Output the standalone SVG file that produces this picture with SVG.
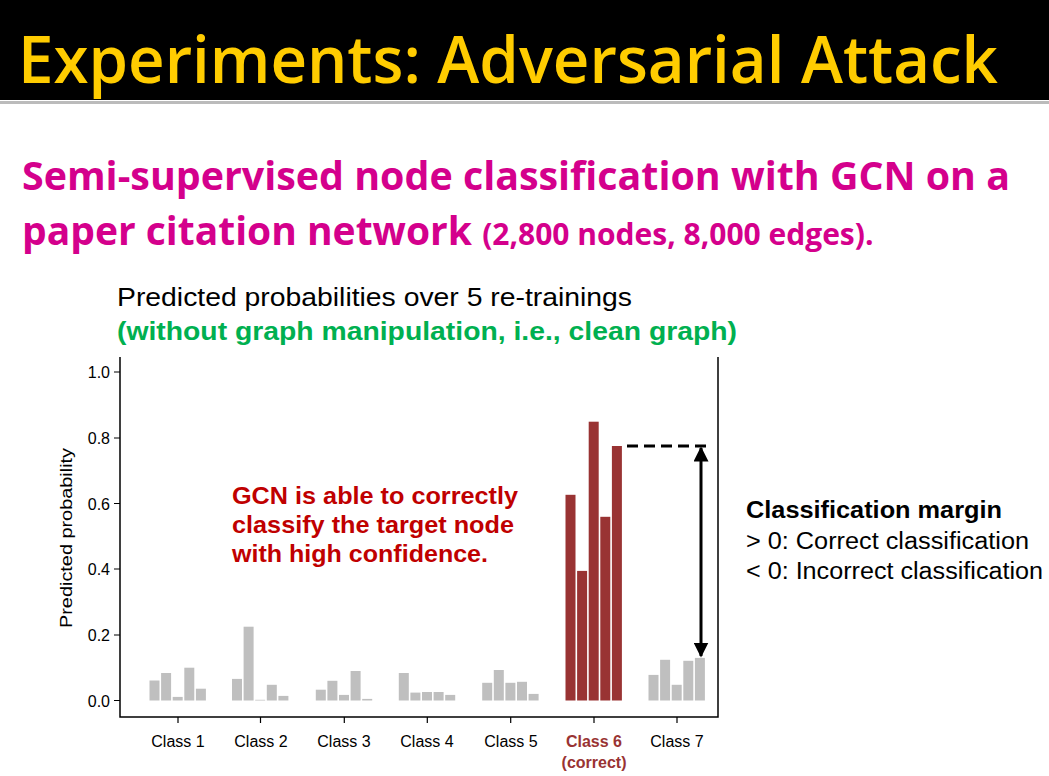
<svg xmlns="http://www.w3.org/2000/svg" width="1049" height="776" viewBox="0 0 1049 776">
<style>
.t{font-family:"Liberation Sans",Arial,sans-serif}
.g{fill:#bfbfbf}.r{fill:#993333}
.tick{font-family:"Liberation Sans",Arial,sans-serif;font-size:16px;fill:#000}
.ax{stroke:#000;stroke-width:1.5;fill:none}
</style>
<defs><marker id="ah" viewBox="0 0 10 10" refX="9" refY="5" markerWidth="5" markerHeight="5" orient="auto-start-reverse"><path d="M0,0L10,5L0,10z" fill="#000"/></marker></defs>
<rect width="1049" height="776" fill="#fff"/>
<rect width="1049" height="100" fill="#000"/>
<rect y="101" width="1049" height="3" fill="#bbb"/>
<text x="18" y="83" font-family="Open Sans,sans-serif" font-size="66" font-weight="600" fill="#FFCC00" textLength="980" lengthAdjust="spacingAndGlyphs">Experiments: Adversarial Attack</text>
<g font-family="Open Sans,sans-serif" font-weight="bold" fill="#D4008C">
<text x="22" y="190" font-size="39" textLength="988" lengthAdjust="spacingAndGlyphs">Semi-supervised node classification with GCN on a</text>
<text x="22" y="245" font-size="39">paper citation network <tspan font-size="30">(2,800 nodes, 8,000 edges).</tspan></text>
</g>
<text class="t" x="117" y="306" font-size="25" textLength="515" lengthAdjust="spacingAndGlyphs">Predicted probabilities over 5 re-trainings</text>
<text class="t" x="117" y="340" font-size="25" font-weight="bold" fill="#00B050" textLength="620" lengthAdjust="spacingAndGlyphs">(without graph manipulation, i.e., clean graph)</text>
<g id="axes">
<path class="ax" d="M120,357V717H718V357"/>
<g stroke="#000" stroke-width="1.2">
<path d="M114,372H120M114,438H120M114,503.5H120M114,569H120M114,635H120M114,700.5H120"/>
<path d="M178,717v6M260.5,717v6M344.3,717v6M427.3,717v6M510.7,717v6M594,717v6M677,717v6"/>
</g>
<g class="tick" text-anchor="end">
<text x="110" y="378">1.0</text><text x="110" y="444">0.8</text><text x="110" y="509.5">0.6</text><text x="110" y="575">0.4</text><text x="110" y="641">0.2</text><text x="110" y="706.5">0.0</text>
</g>
<text class="tick" font-size="17" transform="translate(72,538) rotate(-90)" text-anchor="middle" textLength="180" lengthAdjust="spacingAndGlyphs">Predicted probability</text>
<g class="tick" text-anchor="middle">
<text x="178" y="747">Class 1</text><text x="261" y="747">Class 2</text><text x="344" y="747">Class 3</text><text x="427" y="747">Class 4</text><text x="511" y="747">Class 5</text>
<text x="594" y="747" fill="#993333" font-weight="bold">Class 6</text><text x="594" y="768" fill="#993333" font-weight="bold">(correct)</text>
<text x="677" y="747">Class 7</text>
</g>
</g>
<g id="bars">
<g class="g">
<rect x="149.5" y="680.5" width="10" height="20"/><rect x="161.1" y="673" width="10" height="27.5"/><rect x="172.7" y="696.9" width="10" height="3.6"/><rect x="184.3" y="667.7" width="10" height="32.8"/><rect x="195.9" y="688.7" width="10" height="11.8"/>
<rect x="232" y="678.9" width="10" height="21.6"/><rect x="243.6" y="626.7" width="10" height="73.8"/><rect x="255.2" y="699.8" width="10" height="0.7"/><rect x="266.8" y="684.8" width="10" height="15.7"/><rect x="278.4" y="695.9" width="10" height="4.6"/>
<rect x="315.8" y="689.7" width="10" height="10.8"/><rect x="327.4" y="680.8" width="10" height="19.7"/><rect x="339" y="694.9" width="10" height="5.6"/><rect x="350.6" y="671" width="10" height="29.5"/><rect x="362.2" y="698.9" width="10" height="1.6"/>
<rect x="398.8" y="673" width="10" height="27.5"/><rect x="410.4" y="692.6" width="10" height="7.9"/><rect x="422" y="692" width="10" height="8.5"/><rect x="433.6" y="692" width="10" height="8.5"/><rect x="445.2" y="694.9" width="10" height="5.6"/>
<rect x="482.2" y="682.8" width="10" height="17.7"/><rect x="493.8" y="670" width="10" height="30.5"/><rect x="505.4" y="682.8" width="10" height="17.7"/><rect x="517" y="681.8" width="10" height="18.7"/><rect x="528.6" y="693.9" width="10" height="6.6"/>
<rect x="648.5" y="674.9" width="10" height="25.6"/><rect x="660.1" y="659.8" width="10" height="40.7"/><rect x="671.7" y="684.8" width="10" height="15.7"/><rect x="683.3" y="660.8" width="10" height="39.7"/><rect x="694.9" y="657.9" width="10" height="42.6"/>
</g>
<g class="r">
<rect x="565.5" y="494.8" width="10" height="205.7"/><rect x="577.1" y="570.9" width="10" height="129.6"/><rect x="588.7" y="421.7" width="10" height="278.8"/><rect x="600.3" y="516.8" width="10" height="183.7"/><rect x="611.9" y="446" width="10" height="254.5"/>
</g>
</g>
<g id="connectors">
<path d="M627,446H707" stroke="#000" stroke-width="3" stroke-dasharray="11,6"/>
<path d="M701,448V656" stroke="#000" stroke-width="3" marker-start="url(#ah)" marker-end="url(#ah)"/>
</g>
<g class="t" font-size="24" font-weight="bold" fill="#C00000">
<text x="232" y="504" textLength="286" lengthAdjust="spacingAndGlyphs">GCN is able to correctly</text><text x="232" y="533" textLength="282" lengthAdjust="spacingAndGlyphs">classify the target node</text><text x="232" y="562" textLength="256" lengthAdjust="spacingAndGlyphs">with high confidence.</text>
</g>
<g class="t" font-size="23">
<text x="746" y="518" font-weight="bold" textLength="256" lengthAdjust="spacingAndGlyphs">Classification margin</text>
<text x="746" y="549" textLength="283" lengthAdjust="spacingAndGlyphs">&gt; 0: Correct classification</text>
<text x="746" y="579" textLength="297" lengthAdjust="spacingAndGlyphs">&lt; 0: Incorrect classification</text>
</g>
</svg>
